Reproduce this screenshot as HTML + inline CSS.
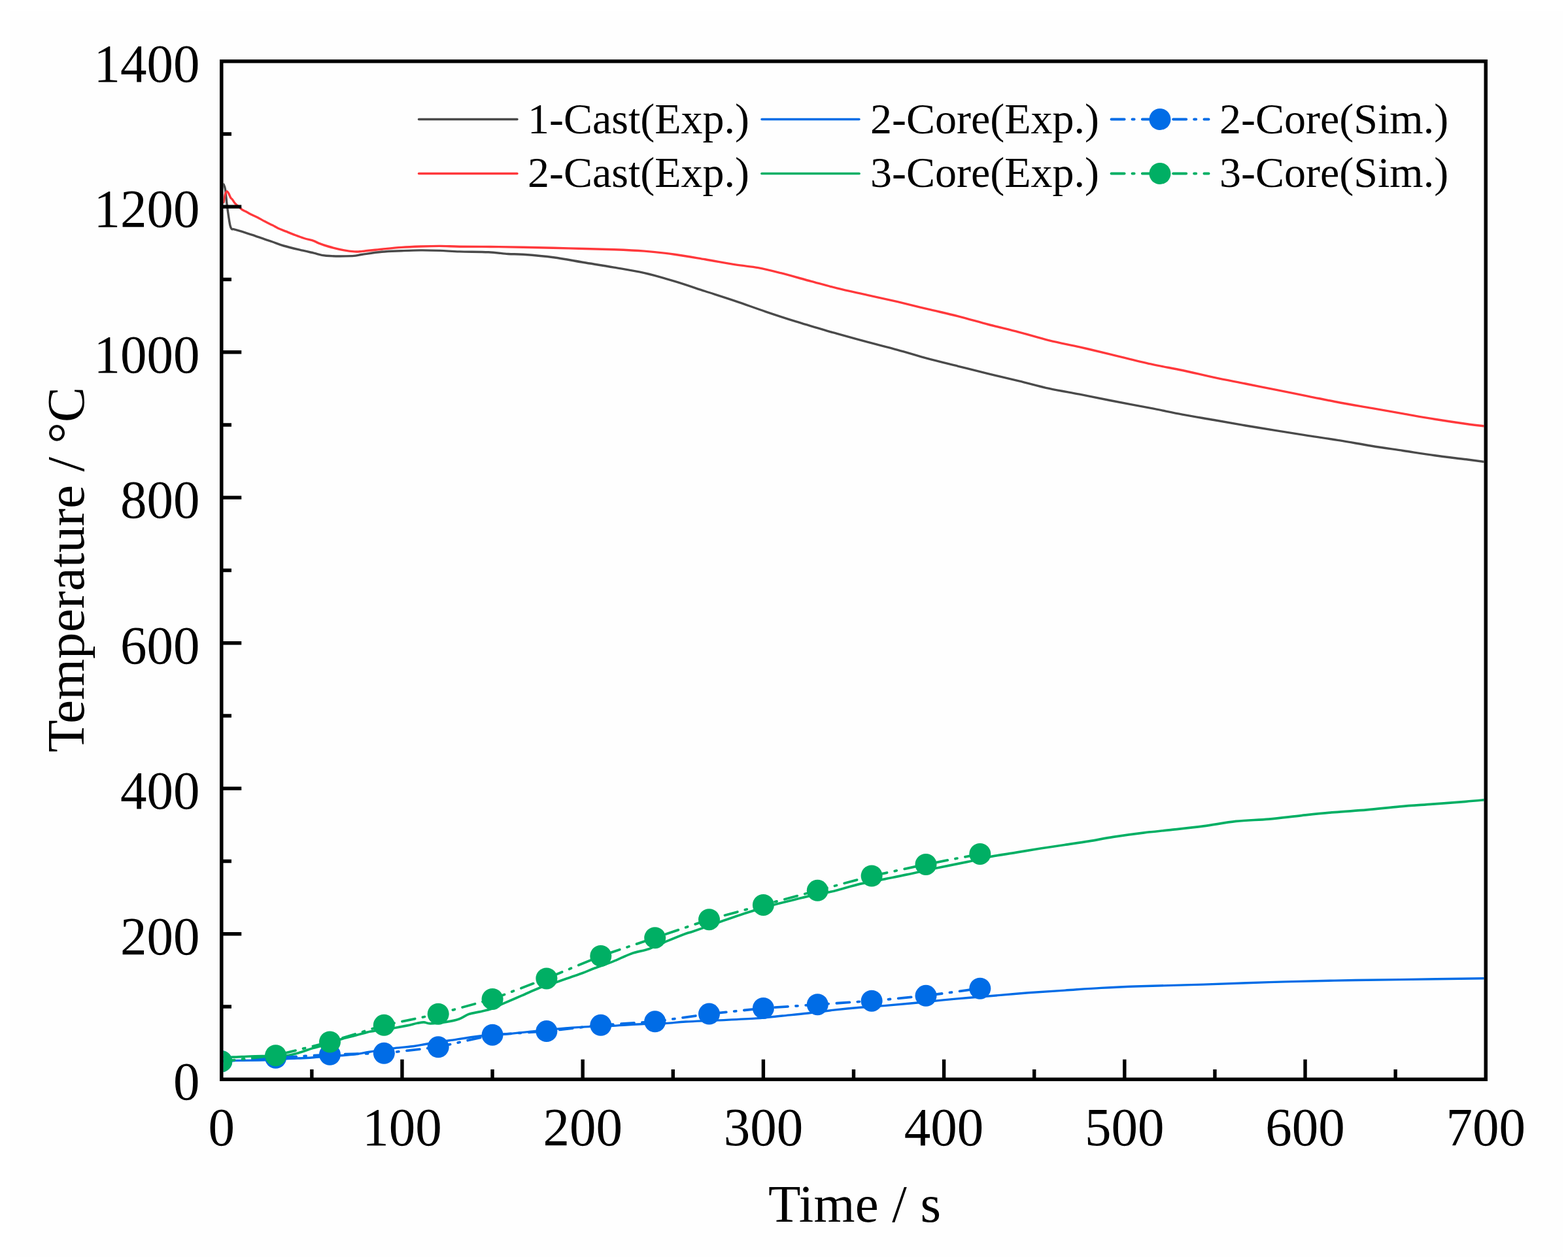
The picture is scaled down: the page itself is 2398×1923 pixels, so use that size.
<!DOCTYPE html>
<html><head><meta charset="utf-8"><title>Temperature vs Time</title>
<style>html,body{margin:0;padding:0;background:#fefefe;overflow:hidden}svg{display:block}</style></head><body>
<svg width="2398" height="1923" viewBox="0 0 2398 1923">
<rect x="0" y="0" width="2398" height="1923" fill="#fefefe"/>
<rect x="0" y="0" width="2398" height="17" fill="#ffffff"/><rect x="0" y="0" width="15" height="1923" fill="#ffffff"/><rect x="2391" y="0" width="7" height="1923" fill="#ffffff"/>
<defs><clipPath id="pc"><rect x="341.5" y="96.5" width="1928" height="1552"/></clipPath></defs>
<g clip-path="url(#pc)" fill="none" stroke-linejoin="round" stroke-linecap="round">
<path d="M341.90 281.90C342.33 283.20 343.68 284.93 344.50 289.70C345.32 294.47 346.03 304.15 346.80 310.50C347.57 316.85 348.23 322.02 349.10 327.80C349.97 333.58 351.13 341.43 352.00 345.20C352.87 348.97 353.43 349.50 354.30 350.40C355.17 351.30 355.95 350.37 357.20 350.60C358.45 350.83 359.10 351.00 361.80 351.80C364.50 352.60 369.25 354.10 373.40 355.40C377.55 356.70 381.40 357.80 386.70 359.60C392.00 361.40 400.18 364.47 405.20 366.20C410.22 367.93 412.03 368.37 416.80 370.00C421.57 371.63 426.15 373.80 433.80 376.00C441.45 378.20 455.00 381.35 462.70 383.20C470.40 385.05 473.95 385.75 480.00 387.10C486.05 388.45 489.17 390.55 499.00 391.30C508.83 392.05 529.83 391.93 539.00 391.60C548.17 391.27 546.50 390.35 554.00 389.30C561.50 388.25 574.00 386.22 584.00 385.30C594.00 384.38 604.17 384.20 614.00 383.80C623.83 383.40 633.17 382.97 643.00 382.90C652.83 382.83 663.00 383.07 673.00 383.40C683.00 383.73 690.67 384.50 703.00 384.90C715.33 385.30 734.67 385.20 747.00 385.80C759.33 386.40 768.17 387.92 777.00 388.50C785.83 389.08 788.43 388.42 800.00 389.30C811.57 390.18 830.93 391.77 846.40 393.80C861.87 395.83 877.35 398.95 892.80 401.50C908.25 404.05 923.65 406.40 939.10 409.10C954.55 411.80 970.03 414.15 985.50 417.70C1000.97 421.25 1016.43 425.77 1031.90 430.40C1047.37 435.03 1062.83 440.47 1078.30 445.50C1093.77 450.53 1109.23 455.38 1124.70 460.60C1140.17 465.82 1155.65 471.58 1171.10 476.80C1186.55 482.02 1201.95 487.07 1217.40 491.90C1232.85 496.73 1253.37 502.72 1263.80 505.80C1274.23 508.88 1269.57 507.50 1280.00 510.40C1290.43 513.30 1310.93 519.05 1326.40 523.20C1341.87 527.35 1357.35 531.05 1372.80 535.30C1388.25 539.55 1403.65 544.53 1419.10 548.70C1434.55 552.87 1450.03 556.43 1465.50 560.30C1480.97 564.17 1496.43 568.15 1511.90 571.90C1527.37 575.65 1542.83 579.05 1558.30 582.80C1573.77 586.55 1589.25 591.00 1604.70 594.40C1620.15 597.80 1635.55 600.18 1651.00 603.20C1666.45 606.22 1679.23 608.97 1697.40 612.50C1715.57 616.03 1741.53 620.80 1760.00 624.40C1778.47 628.00 1792.12 631.08 1808.20 634.10C1824.28 637.12 1840.42 639.68 1856.50 642.50C1872.58 645.32 1888.62 648.27 1904.70 651.00C1920.78 653.73 1936.92 656.30 1953.00 658.90C1969.08 661.50 1985.13 664.10 2001.20 666.60C2017.27 669.10 2033.32 671.28 2049.40 673.90C2065.48 676.52 2081.62 679.70 2097.70 682.30C2113.78 684.90 2129.82 687.08 2145.90 689.50C2161.98 691.92 2178.12 694.58 2194.20 696.80C2210.28 699.02 2229.43 701.13 2242.40 702.80C2255.37 704.47 2267.07 706.13 2272.00 706.80" stroke="#4a4a4a" stroke-width="3.4"/>
<path d="M342.00 309.50C342.42 307.42 343.70 299.78 344.50 297.00C345.30 294.22 345.93 292.97 346.80 292.80C347.67 292.63 348.73 294.40 349.70 296.00C350.67 297.60 351.65 300.85 352.60 302.40C353.55 303.95 354.35 303.95 355.40 305.30C356.45 306.65 357.73 309.05 358.90 310.50C360.07 311.95 360.47 312.27 362.40 314.00C364.33 315.73 368.18 319.27 370.50 320.90C372.82 322.53 373.88 322.55 376.30 323.80C378.72 325.05 382.12 326.95 385.00 328.40C387.88 329.85 390.23 330.77 393.60 332.50C396.97 334.23 401.33 336.78 405.20 338.80C409.07 340.82 413.43 342.87 416.80 344.60C420.17 346.33 422.03 347.65 425.40 349.20C428.77 350.75 432.90 352.25 437.00 353.90C441.10 355.55 445.33 357.33 450.00 359.10C454.67 360.87 460.00 362.92 465.00 364.50C470.00 366.08 476.33 367.38 480.00 368.60C483.67 369.82 483.33 370.40 487.00 371.80C490.67 373.20 495.67 375.20 502.00 377.00C508.33 378.80 518.33 381.28 525.00 382.60C531.67 383.92 537.17 384.60 542.00 384.90C546.83 385.20 547.00 385.02 554.00 384.40C561.00 383.78 574.00 382.20 584.00 381.20C594.00 380.20 604.17 379.10 614.00 378.40C623.83 377.70 633.17 377.33 643.00 377.00C652.83 376.67 663.00 376.37 673.00 376.40C683.00 376.43 690.17 377.02 703.00 377.20C715.83 377.38 733.83 377.32 750.00 377.50C766.17 377.68 780.07 377.90 800.00 378.30C819.93 378.70 846.42 379.33 869.60 379.90C892.78 380.47 919.78 381.00 939.10 381.70C958.42 382.40 970.03 382.85 985.50 384.10C1000.97 385.35 1016.43 387.08 1031.90 389.20C1047.37 391.32 1062.83 394.18 1078.30 396.80C1093.77 399.42 1111.17 402.77 1124.70 404.90C1138.23 407.03 1147.92 407.47 1159.50 409.60C1171.08 411.73 1180.68 414.23 1194.20 417.70C1207.72 421.17 1226.30 426.53 1240.60 430.40C1254.90 434.27 1265.70 437.42 1280.00 440.90C1294.30 444.38 1310.93 447.83 1326.40 451.30C1341.87 454.77 1357.35 458.10 1372.80 461.70C1388.25 465.30 1403.65 469.22 1419.10 472.90C1434.55 476.58 1450.03 479.87 1465.50 483.80C1480.97 487.73 1496.43 492.45 1511.90 496.50C1527.37 500.55 1542.83 504.03 1558.30 508.10C1573.77 512.17 1589.25 517.10 1604.70 520.90C1620.15 524.70 1635.55 527.42 1651.00 530.90C1666.45 534.38 1679.23 537.47 1697.40 541.80C1715.57 546.13 1741.53 552.78 1760.00 556.90C1778.47 561.02 1792.12 563.08 1808.20 566.50C1824.28 569.92 1840.42 573.98 1856.50 577.40C1872.58 580.82 1888.62 583.78 1904.70 587.00C1920.78 590.22 1936.92 593.48 1953.00 596.70C1969.08 599.92 1985.13 603.08 2001.20 606.30C2017.27 609.52 2033.32 612.98 2049.40 616.00C2065.48 619.02 2081.62 621.58 2097.70 624.40C2113.78 627.22 2129.82 630.08 2145.90 632.90C2161.98 635.72 2178.12 638.70 2194.20 641.30C2210.28 643.90 2229.43 646.72 2242.40 648.50C2255.37 650.28 2267.07 651.42 2272.00 652.00" stroke="#ff383b" stroke-width="3.4"/>
<path d="M339.00 1622.50C349.95 1622.40 388.20 1622.37 404.70 1621.90C421.20 1621.43 427.33 1620.27 438.00 1619.70C448.67 1619.13 460.38 1618.95 468.70 1618.50C477.02 1618.05 479.23 1617.62 487.90 1617.00C496.57 1616.38 511.45 1615.50 520.70 1614.80C529.95 1614.10 535.77 1613.77 543.40 1612.80C551.03 1611.83 556.60 1610.53 566.50 1609.00C576.40 1607.47 591.72 1605.02 602.80 1603.60C613.88 1602.18 624.63 1601.60 633.00 1600.50C641.37 1599.40 643.98 1598.45 653.00 1597.00C662.02 1595.55 673.68 1593.80 687.10 1591.80C700.52 1589.80 719.58 1586.60 733.50 1585.00C747.42 1583.40 756.68 1583.43 770.60 1582.20C784.52 1580.97 803.08 1578.98 817.00 1577.60C830.92 1576.22 841.73 1574.98 854.10 1573.90C866.47 1572.82 877.28 1571.88 891.20 1571.10C905.12 1570.32 922.13 1569.97 937.60 1569.20C953.07 1568.43 970.65 1567.12 984.00 1566.50C997.35 1565.88 1006.88 1566.08 1017.70 1565.50C1028.52 1564.92 1035.47 1563.77 1048.90 1563.00C1062.33 1562.23 1080.23 1561.75 1098.30 1560.90C1116.37 1560.05 1140.90 1559.05 1157.30 1557.90C1173.70 1556.75 1183.58 1555.32 1196.70 1554.00C1209.82 1552.68 1222.90 1551.48 1236.00 1550.00C1249.10 1548.52 1262.18 1546.57 1275.30 1545.10C1288.42 1543.63 1301.92 1542.28 1314.70 1541.20C1327.48 1540.12 1336.83 1539.85 1352.00 1538.60C1367.17 1537.35 1387.48 1535.45 1405.70 1533.70C1423.92 1531.95 1442.75 1529.80 1461.30 1528.10C1479.85 1526.40 1498.45 1525.05 1517.00 1523.50C1535.55 1521.95 1554.05 1520.20 1572.60 1518.80C1591.15 1517.40 1609.73 1516.33 1628.30 1515.10C1646.87 1513.87 1664.55 1512.45 1684.00 1511.40C1703.45 1510.35 1718.97 1509.68 1745.00 1508.80C1771.03 1507.92 1807.63 1507.13 1840.20 1506.10C1872.77 1505.07 1907.00 1503.60 1940.40 1502.60C1973.80 1501.60 2007.22 1500.77 2040.60 1500.10C2073.98 1499.43 2102.13 1499.17 2140.70 1498.60C2179.27 1498.03 2250.12 1497.02 2272.00 1496.70" stroke="#006ce6" stroke-width="3.4"/>
<path d="M339.00 1617.00C341.83 1617.03 348.67 1617.37 356.00 1617.20C363.33 1617.03 374.00 1616.28 383.00 1616.00C392.00 1615.72 400.90 1615.67 410.00 1615.50C419.10 1615.33 429.28 1615.95 437.60 1615.00C445.92 1614.05 453.10 1611.72 459.90 1609.80C466.70 1607.88 472.22 1605.37 478.40 1603.50C484.58 1601.63 489.90 1600.85 497.00 1598.60C504.10 1596.35 513.63 1592.32 521.00 1590.00C528.37 1587.68 534.43 1586.52 541.20 1584.70C547.97 1582.88 556.60 1580.33 561.60 1579.10C566.60 1577.87 564.13 1578.40 571.20 1577.30C578.27 1576.20 595.38 1573.90 604.00 1572.50C612.62 1571.10 617.20 1570.10 622.90 1568.90C628.60 1567.70 633.95 1566.15 638.20 1565.30C642.45 1564.45 645.10 1563.72 648.40 1563.80C651.70 1563.88 652.32 1565.87 658.00 1565.80C663.68 1565.73 675.17 1564.53 682.50 1563.40C689.83 1562.27 696.28 1560.97 702.00 1559.00C707.72 1557.03 711.55 1553.45 716.80 1551.60C722.05 1549.75 727.63 1549.28 733.50 1547.90C739.37 1546.52 745.82 1545.47 752.00 1543.30C758.18 1541.13 762.87 1538.30 770.60 1534.90C778.33 1531.50 789.12 1526.92 798.40 1522.90C807.68 1518.88 817.02 1514.37 826.30 1510.80C835.58 1507.23 846.38 1504.13 854.10 1501.50C861.82 1498.87 866.42 1497.17 872.60 1495.00C878.78 1492.83 885.02 1490.82 891.20 1488.50C897.38 1486.18 901.97 1484.03 909.70 1481.10C917.43 1478.17 928.32 1474.60 937.60 1470.90C946.88 1467.20 956.13 1462.15 965.40 1458.90C974.67 1455.65 983.93 1454.65 993.20 1451.40C1002.47 1448.15 1011.72 1443.27 1021.00 1439.40C1030.28 1435.53 1042.57 1430.57 1048.90 1428.20C1055.23 1425.83 1050.77 1428.00 1059.00 1425.20C1067.23 1422.40 1085.18 1415.98 1098.30 1411.40C1111.42 1406.82 1124.58 1401.95 1137.70 1397.70C1150.82 1393.45 1163.90 1389.52 1177.00 1385.90C1190.10 1382.28 1206.47 1378.47 1216.30 1376.00C1226.13 1373.53 1226.17 1373.23 1236.00 1371.10C1245.83 1368.97 1262.18 1366.32 1275.30 1363.20C1288.42 1360.08 1301.58 1355.50 1314.70 1352.40C1327.82 1349.30 1341.93 1347.02 1354.00 1344.60C1366.07 1342.18 1373.85 1340.72 1387.10 1337.90C1400.35 1335.08 1418.03 1330.95 1433.50 1327.70C1448.97 1324.45 1465.98 1321.33 1479.90 1318.40C1493.82 1315.47 1504.63 1312.47 1517.00 1310.10C1529.37 1307.73 1541.73 1306.22 1554.10 1304.20C1566.47 1302.18 1578.83 1299.95 1591.20 1298.00C1603.57 1296.05 1615.93 1294.35 1628.30 1292.50C1640.67 1290.65 1653.03 1288.92 1665.40 1286.90C1677.77 1284.88 1688.40 1282.57 1702.50 1280.40C1716.60 1278.23 1735.40 1275.68 1750.00 1273.90C1764.60 1272.12 1775.07 1271.37 1790.10 1269.70C1805.13 1268.03 1823.50 1266.12 1840.20 1263.90C1856.90 1261.68 1873.60 1258.20 1890.30 1256.40C1907.00 1254.60 1923.70 1254.57 1940.40 1253.10C1957.10 1251.63 1973.80 1249.35 1990.50 1247.60C2007.20 1245.85 2023.92 1244.05 2040.60 1242.60C2057.28 1241.15 2073.92 1240.37 2090.60 1238.90C2107.28 1237.43 2124.00 1235.27 2140.70 1233.80C2157.40 1232.33 2174.10 1231.35 2190.80 1230.10C2207.50 1228.85 2227.37 1227.40 2240.90 1226.30C2254.43 1225.20 2266.82 1223.97 2272.00 1223.50" stroke="#00af64" stroke-width="3.6999999999999997"/>
<polyline points="338.8,1623.7 421.6,1618.3 504.5,1613.3 587.3,1611.3 670.2,1601.8 753.1,1583.2 835.9,1577.6 918.8,1568.3 1001.7,1562.8 1084.5,1551.1 1167.4,1542.4 1250.3,1536.7 1333.1,1531.2 1416.0,1523.3 1498.8,1512.2" stroke="#006ce6" stroke-width="3.8" stroke-dasharray="20 12 3 12.3"/>
<g fill="#006ce6" stroke="none"><circle cx="338.8" cy="1623.7" r="16.5"/><circle cx="421.6" cy="1618.3" r="16.5"/><circle cx="504.5" cy="1613.3" r="16.5"/><circle cx="587.3" cy="1611.3" r="16.5"/><circle cx="670.2" cy="1601.8" r="16.5"/><circle cx="753.1" cy="1583.2" r="16.5"/><circle cx="835.9" cy="1577.6" r="16.5"/><circle cx="918.8" cy="1568.3" r="16.5"/><circle cx="1001.7" cy="1562.8" r="16.5"/><circle cx="1084.5" cy="1551.1" r="16.5"/><circle cx="1167.4" cy="1542.4" r="16.5"/><circle cx="1250.3" cy="1536.7" r="16.5"/><circle cx="1333.1" cy="1531.2" r="16.5"/><circle cx="1416.0" cy="1523.3" r="16.5"/><circle cx="1498.8" cy="1512.2" r="16.5"/></g>
<polyline points="338.8,1623.7 421.6,1614.7 504.5,1594.0 587.3,1568.3 670.2,1551.2 753.1,1528.4 835.9,1496.9 918.8,1462.5 1001.7,1434.7 1084.5,1406.7 1167.4,1384.4 1250.3,1362.3 1333.1,1340.0 1416.0,1322.4 1498.8,1306.4" stroke="#00af64" stroke-width="3.8" stroke-dasharray="20 12 3 12.3"/>
<g fill="#00af64" stroke="none"><circle cx="338.8" cy="1623.7" r="16.5"/><circle cx="421.6" cy="1614.7" r="16.5"/><circle cx="504.5" cy="1594.0" r="16.5"/><circle cx="587.3" cy="1568.3" r="16.5"/><circle cx="670.2" cy="1551.2" r="16.5"/><circle cx="753.1" cy="1528.4" r="16.5"/><circle cx="835.9" cy="1496.9" r="16.5"/><circle cx="918.8" cy="1462.5" r="16.5"/><circle cx="1001.7" cy="1434.7" r="16.5"/><circle cx="1084.5" cy="1406.7" r="16.5"/><circle cx="1167.4" cy="1384.4" r="16.5"/><circle cx="1250.3" cy="1362.3" r="16.5"/><circle cx="1333.1" cy="1340.0" r="16.5"/><circle cx="1416.0" cy="1322.4" r="16.5"/><circle cx="1498.8" cy="1306.4" r="16.5"/></g>
</g>
<rect x="338.75" y="93.75" width="1933.5" height="1557.5" fill="none" stroke="#000" stroke-width="5.5"/>
<path d="M476.86 1651.25V1636.05M614.96 1651.25V1620.75M753.07 1651.25V1636.05M891.18 1651.25V1620.75M1029.29 1651.25V1636.05M1167.39 1651.25V1620.75M1305.50 1651.25V1636.05M1443.61 1651.25V1620.75M1581.71 1651.25V1636.05M1719.82 1651.25V1620.75M1857.93 1651.25V1636.05M1996.04 1651.25V1620.75M2134.14 1651.25V1636.05M338.75 1540.00H353.95M338.75 1428.75H369.25M338.75 1317.50H353.95M338.75 1206.25H369.25M338.75 1095.00H353.95M338.75 983.75H369.25M338.75 872.50H353.95M338.75 761.25H369.25M338.75 650.00H353.95M338.75 538.75H369.25M338.75 427.50H353.95M338.75 316.25H369.25M338.75 205.00H353.95" stroke="#000" stroke-width="5.4" fill="none"/>
<g font-family="'Liberation Serif','Times New Roman',serif" font-size="81" fill="#000">
<text transform="translate(338.8 1751.8) scale(1 1.03)" text-anchor="middle">0</text>
<text transform="translate(615.0 1751.8) scale(1 1.03)" text-anchor="middle">100</text>
<text transform="translate(891.2 1751.8) scale(1 1.03)" text-anchor="middle">200</text>
<text transform="translate(1167.4 1751.8) scale(1 1.03)" text-anchor="middle">300</text>
<text transform="translate(1443.6 1751.8) scale(1 1.03)" text-anchor="middle">400</text>
<text transform="translate(1719.8 1751.8) scale(1 1.03)" text-anchor="middle">500</text>
<text transform="translate(1996.0 1751.8) scale(1 1.03)" text-anchor="middle">600</text>
<text transform="translate(2272.2 1751.8) scale(1 1.03)" text-anchor="middle">700</text>
<text transform="translate(305.5 1682.0) scale(1 1.03)" text-anchor="end">0</text>
<text transform="translate(305.5 1459.5) scale(1 1.03)" text-anchor="end">200</text>
<text transform="translate(305.5 1237.0) scale(1 1.03)" text-anchor="end">400</text>
<text transform="translate(305.5 1014.5) scale(1 1.03)" text-anchor="end">600</text>
<text transform="translate(305.5 792.0) scale(1 1.03)" text-anchor="end">800</text>
<text transform="translate(305.5 569.5) scale(1 1.03)" text-anchor="end">1000</text>
<text transform="translate(305.5 346.9) scale(1 1.03)" text-anchor="end">1200</text>
<text transform="translate(305.5 124.5) scale(1 1.03)" text-anchor="end">1400</text>
</g>
<text font-family="'Liberation Serif','Times New Roman',serif" font-size="81" x="1175" y="1869.2" textLength="264" lengthAdjust="spacing">Time / s</text>
<text font-family="'Liberation Serif','Times New Roman',serif" font-size="81" transform="translate(128.3 1151) rotate(-90)" x="0" y="0" textLength="559" lengthAdjust="spacing">Temperature / °C</text>
<g stroke-linecap="round" fill="none">
<line x1="640.5" y1="182.5" x2="791" y2="182.5" stroke="#4a4a4a" stroke-width="3.4"/>
<line x1="640.5" y1="265.5" x2="791" y2="265.5" stroke="#ff383b" stroke-width="3.4"/>
<line x1="1165" y1="182.5" x2="1314" y2="182.5" stroke="#006ce6" stroke-width="3.4"/>
<line x1="1165" y1="265.5" x2="1314" y2="265.5" stroke="#00af64" stroke-width="3.6999999999999997"/>
<line x1="1699.6" y1="182.5" x2="1848.5" y2="182.5" stroke="#006ce6" stroke-width="4" stroke-dasharray="20 12 3 12.3"/>
<line x1="1699.6" y1="265.5" x2="1848.5" y2="265.5" stroke="#00af64" stroke-width="4" stroke-dasharray="20 12 3 12.3"/>
</g>
<circle cx="1774" cy="182.5" r="16.5" fill="#006ce6"/><circle cx="1774" cy="265.5" r="16.5" fill="#00af64"/>
<g font-family="'Liberation Serif','Times New Roman',serif" font-size="66" fill="#000">
<text x="807" y="203.8">1-Cast(Exp.)</text>
<text x="807" y="286.4">2-Cast(Exp.)</text>
<text x="1331" y="203.8">2-Core(Exp.)</text>
<text x="1331" y="286.4">3-Core(Exp.)</text>
<text x="1865" y="203.8">2-Core(Sim.)</text>
<text x="1865" y="286.4">3-Core(Sim.)</text>
</g>
</svg></body></html>
